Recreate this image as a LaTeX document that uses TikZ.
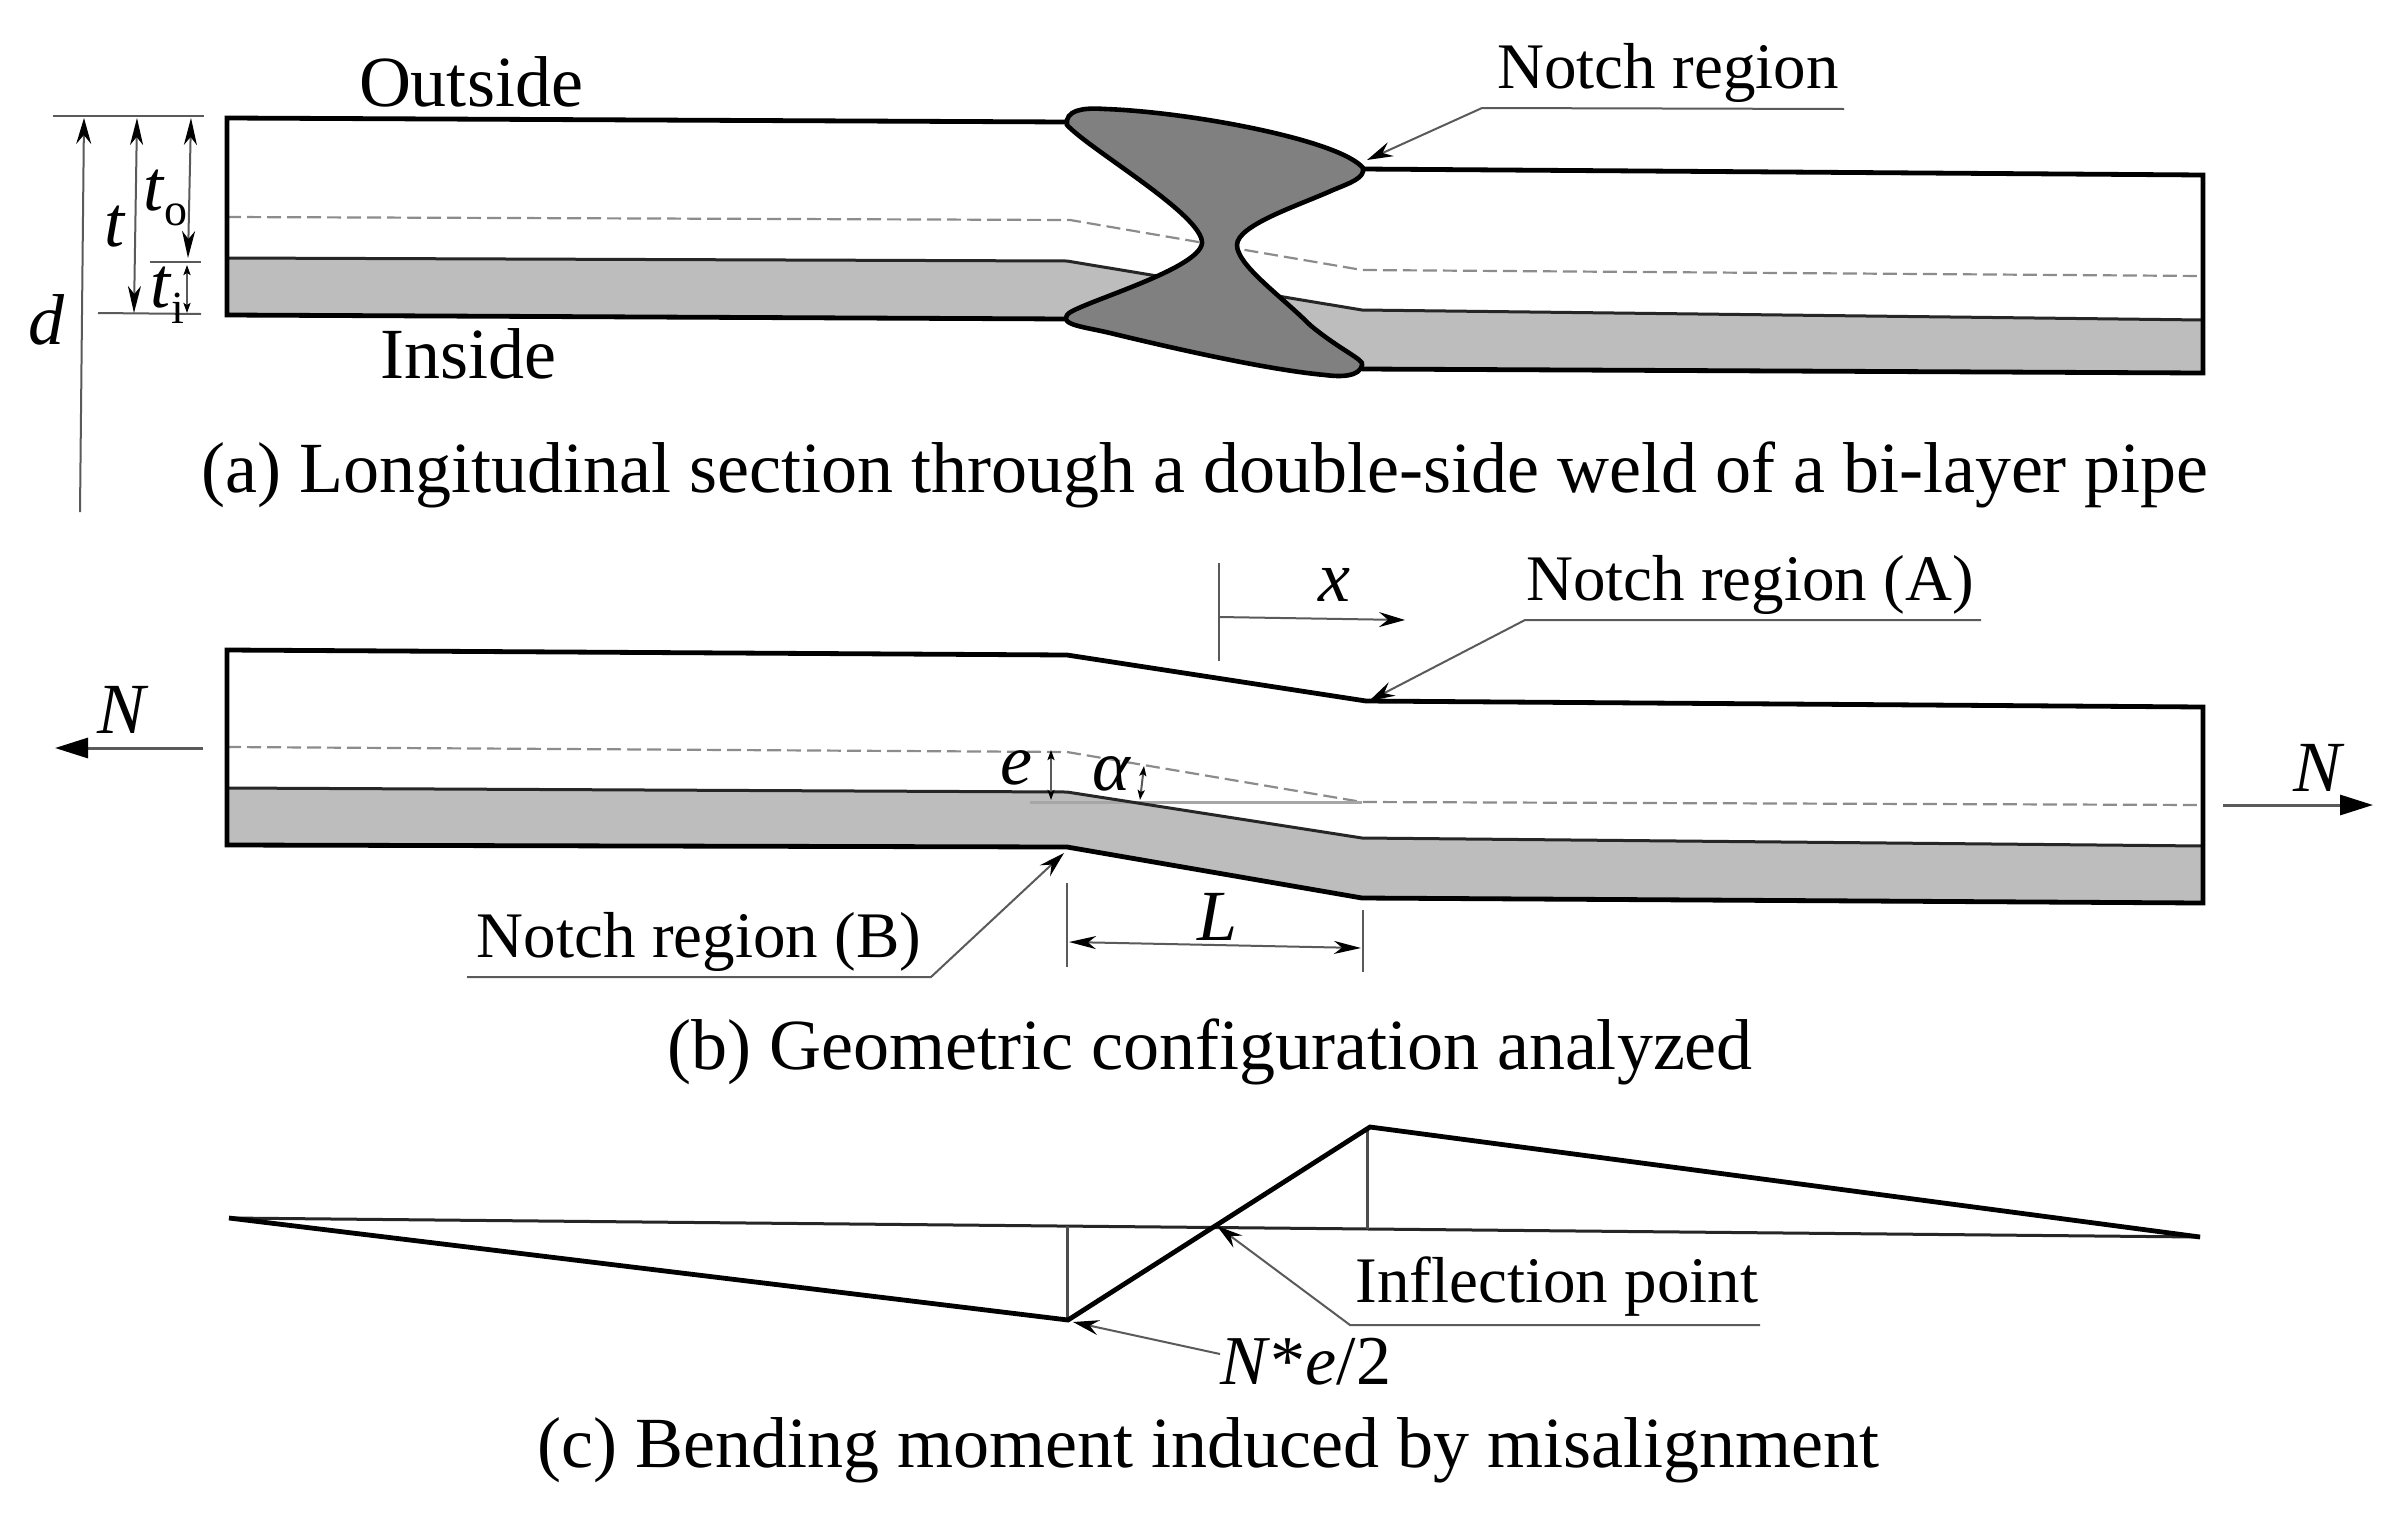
\documentclass[tikz,border=0pt]{standalone}
\usepackage{fontspec}
\setmainfont{Liberation Serif}
\usetikzlibrary{arrows.meta}
\definecolor{layer}{HTML}{BDBDBD}
\definecolor{weld}{HTML}{808080}
\definecolor{dimcol}{HTML}{5A5A5A}
\tikzset{
  x=1pt,y=-1pt,
  wall/.style={line width=4.8pt,black,line join=miter},
  seam/.style={line width=3pt,black!85},
  midline/.style={line width=2.2pt,black!45,dash pattern=on 14pt off 6pt},
  dimline/.style={line width=2pt,dimcol},
  onetip/.style={-{Stealth[length=26pt,width=15pt,inset=9pt,color=black]}},
  forcetip/.style={-{Stealth[length=33pt,width=20pt,inset=0pt,color=black]}},
  smalltips/.style={{Stealth[length=10pt,width=7pt,inset=2pt,color=black]}-{Stealth[length=10pt,width=7pt,inset=2pt,color=black]}},
  bothtips/.style={{Stealth[length=27pt,width=13pt,inset=8pt,color=black]}-{Stealth[length=27pt,width=13pt,inset=8pt,color=black]}},
  txt/.style={inner sep=0pt,font=\fontsize{65}{70}\selectfont},
  bigtxt/.style={inner sep=0pt,font=\fontsize{72}{76}\selectfont},
  captxt/.style={inner sep=0pt,font=\fontsize{72}{76}\selectfont},
}
\begin{document}
\begin{tikzpicture}
\useasboundingbox[fill=white] (0,0) rectangle (2400,1518);
% ---------- (a)
\fill[layer] (227,258) -- (1067,261) -- (1362,310) -- (2203,320) -- (2203,373) -- (1362,369) -- (1067,319) -- (227,315) -- cycle;
\draw[midline] (227,217) -- (1070,220) -- (1362,270) -- (2203,276);
\draw[seam] (227,258) -- (1067,261) -- (1362,310) -- (2203,320);
\draw[wall] (1067,122) -- (227,118) -- (227,315) -- (1067,319);
\draw[wall] (1362,169) -- (2203,175) -- (2203,373) -- (1362,369);
\filldraw[fill=weld,draw=black,line width=4.6pt]
  (1067,120) .. controls (1070,108) and (1090,108) .. (1105,109)
  .. controls (1190,112) and (1340,140) .. (1363,168)
  .. controls (1365,178) and (1350,183) .. (1333,190)
  .. controls (1300,205) and (1237,225) .. (1237,245)
  .. controls (1237,265) and (1280,295) .. (1310,325)
  .. controls (1340,350) and (1365,360) .. (1362,365)
  .. controls (1360,377) and (1340,377) .. (1325,375)
  .. controls (1270,370) and (1180,350) .. (1110,333)
  .. controls (1085,327) and (1060,325) .. (1067,315)
  .. controls (1072,305) and (1200,270) .. (1202,243)
  .. controls (1203,215) and (1090,150) .. (1067,125)
  -- cycle;
% dimensions (a)
\coordinate (dA) at (80,512); \coordinate (dB) at (84,118);
\coordinate (tA) at (137,118); \coordinate (tB) at (134,313);
\coordinate (oA) at (191,118); \coordinate (oB) at (188,258);
\coordinate (iA) at (187,265); \coordinate (iB) at (187,313);
\draw[dimline] (53,116) -- (204,116);
\draw[dimline] (98,313) -- (201,314);
\draw[dimline] (150,262) -- (201,262);
\draw[dimline,onetip] (dA) -- (dB);
\draw[dimline,bothtips] (tA) -- (tB);
\draw[dimline,bothtips] (oA) -- (oB);
\draw[dimline,smalltips] (iA) -- (iB);
\node[bigtxt] (labd) at (47,320) {\textit{d}};
\node[bigtxt] (labt) at (115,227) {\textit{t}};
\node[bigtxt,anchor=base west] (labto) at (143,210) {\textit{t}\raisebox{-15pt}{\fontsize{46}{46}\selectfont o}};
\node[bigtxt,anchor=base west] (labti) at (150,307) {\textit{t}\raisebox{-16pt}{\fontsize{46}{46}\selectfont i}};
\node[bigtxt] (outside) at (471,82) {Outside};
\node[bigtxt] (inside) at (468,354) {Inside};
\node[txt] (notcha) at (1668,73) {Notch region};
\coordinate (na1) at (1844,109); \coordinate (na2) at (1482,108); \coordinate (na3) at (1367,160);
\draw[dimline,onetip] (na1) -- (na2) -- (na3);
\node[captxt] (capa) at (1205,475) {(a) Longitudinal section through a double-side weld of a bi-layer pipe};
% ---------- (b)
\fill[layer] (227,788) -- (1067,792) -- (1362,838) -- (2203,846) -- (2203,903) -- (1362,898) -- (1067,847) -- (227,845) -- cycle;
\draw[midline] (227,747) -- (1067,752) -- (1362,802) -- (2203,805);
\draw[line width=3pt,black!35] (1030,802) -- (1362,802);
\draw[seam] (227,788) -- (1067,792) -- (1362,838) -- (2203,846);
\draw[wall] (227,845) -- (1067,847) -- (1362,898) -- (2203,903) -- (2203,707) -- (1366,701) -- (1067,655) -- (227,650) -- cycle;
% dimensions (b)
\coordinate (eA) at (1051,750); \coordinate (eB) at (1051,800);
\coordinate (alA) at (1144,766); \coordinate (alB) at (1140,800);
\draw[dimline,smalltips] (eA) -- (eB);
\draw[dimline,smalltips] (alA) -- (alB);
\node[bigtxt] (labe) at (1016,768) {\textit{e}};
\node[bigtxt] (labal) at (1112,774) {\textit{α}};
\coordinate (la) at (1067,883); \coordinate (lb) at (1067,967);
\coordinate (lc) at (1363,910); \coordinate (ld) at (1363,972);
\coordinate (le) at (1069,942); \coordinate (lf) at (1361,948);
\draw[dimline] (la) -- (lb); \draw[dimline] (lc) -- (ld);
\draw[dimline,bothtips] (le) -- (lf);
\node[bigtxt] (labl) at (1218,917) {\textit{L}};
\coordinate (xa) at (1219,563); \coordinate (xb) at (1219,661);
\coordinate (xc) at (1219,617); \coordinate (xd) at (1405,620);
\draw[dimline] (xa) -- (xb);
\draw[dimline,onetip] (xc) -- (xd);
\node[bigtxt] (labx) at (1334,585) {\textit{x}};
\node[txt] (notchA) at (1750,585) {Notch region (A)};
\coordinate (nA1) at (1981,620); \coordinate (nA2) at (1525,620); \coordinate (nA3) at (1369,701);
\draw[dimline,onetip] (nA1) -- (nA2) -- (nA3);
\node[txt] (notchB) at (699,942) {Notch region (B)};
\coordinate (nB1) at (467,977); \coordinate (nB2) at (931,977); \coordinate (nB3) at (1064,853);
\draw[dimline,onetip] (nB1) -- (nB2) -- (nB3);
\node[bigtxt] (labn1) at (123,710) {\textit{N}};
\node[bigtxt] (labn2) at (2319,768) {\textit{N}};
\coordinate (Na) at (203,748); \coordinate (Nb) at (55,748);
\coordinate (Nc) at (2223,805); \coordinate (Nd) at (2373,805);
\draw[line width=3pt,dimcol,forcetip] (Na) -- (Nb);
\draw[line width=3pt,dimcol,forcetip] (Nc) -- (Nd);
\node[captxt] (capb) at (1210,1052) {(b) Geometric configuration analyzed};
% ---------- (c)
\coordinate (m0) at (229,1218); \coordinate (m1) at (1068,1320); \coordinate (m2) at (1370,1127); \coordinate (m3) at (2200,1237);
\draw[line width=3pt,black!85] (m0) -- (m3);
\draw[line width=3pt,black!70] (1067,1226) -- (1067,1320);
\draw[line width=3pt,black!70] (1367,1127) -- (1367,1229);
\draw[line width=4.8pt,black,line join=miter] (m0) -- (m1) -- (m2) -- (m3);
\node[txt] (infl) at (1557,1287) {Inflection point};
\node[bigtxt,font=\fontsize{70}{74}\selectfont] (ne) at (1306,1362) {\textit{N}*\textit{e}/2};
\coordinate (i1) at (1760,1325); \coordinate (i2) at (1350,1325); \coordinate (i3) at (1217,1226);
\draw[dimline,onetip] (i1) -- (i2) -- (i3);
\coordinate (n1) at (1220,1354); \coordinate (n2) at (1073,1322);
\draw[dimline,onetip] (n1) -- (n2);
\node[captxt] (capc) at (1208,1450) {(c) Bending moment induced by misalignment};
\end{tikzpicture}
\end{document}
